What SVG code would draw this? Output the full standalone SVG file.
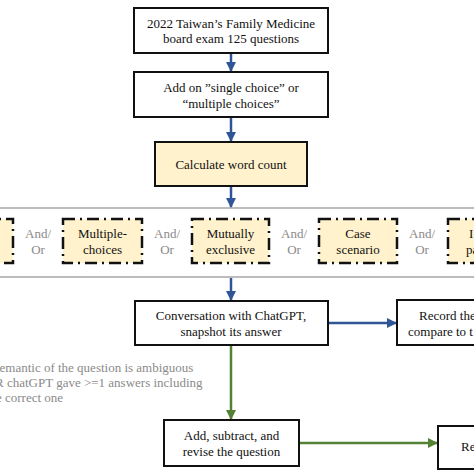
<svg xmlns="http://www.w3.org/2000/svg" width="474" height="474" viewBox="0 0 474 474">
<defs>
<style>
text{font-family:"Liberation Serif","Times New Roman",serif;font-size:13px;fill:#111}
.c{text-anchor:middle}
.g{fill:#8a8a8a}
.box{fill:#fff;stroke:#111;stroke-width:2}
.ybox{fill:#fff2cc;stroke:#111;stroke-width:2}
.dbox{fill:#fff2cc;stroke:#111;stroke-width:2.5;stroke-dasharray:12 5 2 5}
.blue{stroke:#2f5597;stroke-width:2.5;fill:none}
.green{stroke:#548235;stroke-width:2.5;fill:none}
</style>
<marker id="ab" viewBox="0 0 10 10" refX="9" refY="5" markerWidth="4" markerHeight="4" orient="auto" markerUnits="strokeWidth"><path d="M0,0L10,5L0,10z" fill="#2f5597"/></marker>
<marker id="ag" viewBox="0 0 10 10" refX="9" refY="5" markerWidth="4" markerHeight="4" orient="auto" markerUnits="strokeWidth"><path d="M0,0L10,5L0,10z" fill="#548235"/></marker>
</defs>
<rect width="474" height="474" fill="#fff"/>
<g id="band"><rect x="-5" y="208" width="484" height="69" fill="#fff" stroke="#a6a6a6" stroke-width="1.5"/></g>
<g id="connectors">
<line class="blue" x1="231" y1="54" x2="231" y2="71" marker-end="url(#ab)"/>
<line class="blue" x1="231" y1="118" x2="231" y2="141" marker-end="url(#ab)"/>
<line class="blue" x1="231" y1="187" x2="231" y2="207" marker-end="url(#ab)"/>
<line class="blue" x1="231" y1="278" x2="231" y2="300" marker-end="url(#ab)"/>
<line class="blue" x1="329" y1="323" x2="396" y2="323" marker-end="url(#ab)"/>
<line class="green" x1="231" y1="346" x2="231" y2="419" marker-end="url(#ag)"/>
<line class="green" x1="300" y1="443" x2="437" y2="443" marker-end="url(#ag)"/>
</g>
<g id="n1"><rect class="box" x="134" y="8" width="194" height="45"/>
<text class="c" x="231" y="27.5">2022 Taiwan’s Family Medicine</text>
<text class="c" x="231" y="43">board exam 125 questions</text></g>
<g id="n2"><rect class="box" x="134" y="72" width="194" height="45"/>
<text class="c" x="231" y="92">Add on ”single choice” or</text>
<text class="c" x="231" y="107.5">“multiple choices”</text></g>
<g id="n3"><rect class="ybox" x="155" y="142" width="152" height="44"/>
<text class="c" x="231" y="168.5">Calculate word count</text></g>
<g id="d0"><rect class="dbox" x="-66" y="219" width="79" height="44"/></g>
<g id="o1"><text class="c g" x="38" y="238">And/</text><text class="c g" x="38" y="253.5">Or</text></g>
<g id="d1"><rect class="dbox" x="63" y="219" width="79" height="44"/>
<text class="c" x="102.5" y="238">Multiple-</text><text class="c" x="102.5" y="253.5">choices</text></g>
<g id="o2"><text class="c g" x="167" y="238">And/</text><text class="c g" x="167" y="253.5">Or</text></g>
<g id="d2"><rect class="dbox" x="192" y="219" width="77" height="44"/>
<text class="c" x="230.5" y="238">Mutually</text><text class="c" x="230.5" y="253.5">exclusive</text></g>
<g id="o3"><text class="c g" x="294" y="238">And/</text><text class="c g" x="294" y="253.5">Or</text></g>
<g id="d3"><rect class="dbox" x="319" y="219" width="78" height="44"/>
<text class="c" x="358" y="238">Case</text><text class="c" x="358" y="253.5">scenario</text></g>
<g id="o4"><text class="c g" x="422" y="238">And/</text><text class="c g" x="422" y="253.5">Or</text></g>
<g id="d4"><rect class="dbox" x="448" y="219" width="79" height="44"/>
<text x="469" y="238">I</text><text x="466" y="253.5">pa</text></g>
<g id="n4"><rect class="box" x="135" y="301" width="193" height="44"/>
<text class="c" x="231" y="320">Conversation with ChatGPT,</text>
<text class="c" x="231" y="335.5">snapshot its answer</text></g>
<g id="n5"><rect class="box" x="397" y="300" width="90" height="45"/>
<text x="419" y="320">Record the</text>
<text x="408" y="335.5">compare to t</text></g>
<g id="cond"><text class="g" x="-0.5" y="372">emantic of the question is ambiguous</text>
<text class="g" x="-5" y="387">R  chatGPT gave &gt;=1 answers including</text>
<text class="g" x="-4" y="402">e correct one</text></g>
<g id="n6"><rect class="box" x="164" y="420" width="135" height="46"/>
<text class="c" x="231.5" y="440">Add, subtract, and</text>
<text class="c" x="231.5" y="455.5">revise the question</text></g>
<g id="n7"><rect class="box" x="438" y="426" width="50" height="43"/>
<text x="461" y="451">Re</text></g>
</svg>
